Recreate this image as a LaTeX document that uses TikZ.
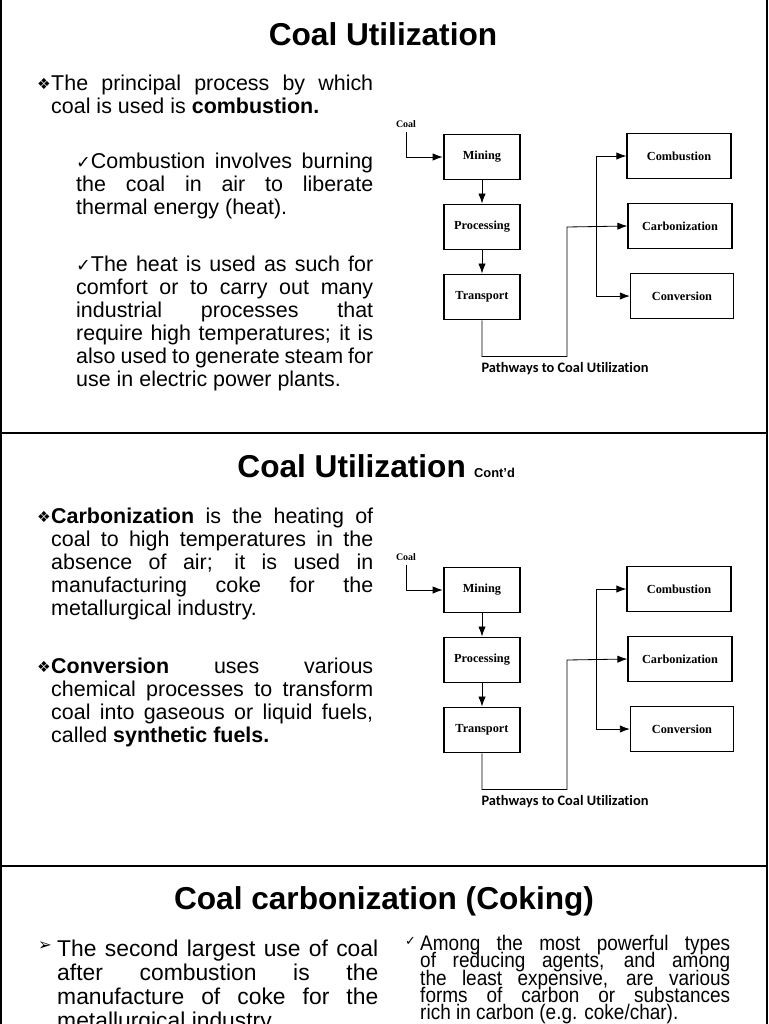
\documentclass[tikz,border=0pt]{standalone}
\usepackage{fontspec}
\setmainfont{Liberation Sans}
\newfontfamily\boxfont{Liberation Serif}
\newfontfamily\capfont{Carlito}[Ligatures=NoCommon]
\newfontfamily\symfont{DejaVu Sans}
\newfontfamily\narrowfont{Liberation Sans}[FakeStretch=0.9]
\usetikzlibrary{positioning,arrows.meta}
\tikzset{
  stage/.style={draw, line width=1.6pt, minimum width=23mm, minimum height=13.5mm, font=\boxfont\bfseries\fontsize{10.5}{12}\selectfont},
  flow/.style={line width=0.7pt, -{Latex[length=3mm, width=2.2mm]}},
  body/.style={anchor=north west, inner sep=0pt, align=justify, font=\fontsize{18.3}{19.6}\selectfont\nohyph},
  bullet/.style={anchor=north west, inner sep=0pt, font=\symfont\fontsize{13}{12}\selectfont},
  title/.style={font=\bfseries\fontsize{27}{30}\selectfont}
}
\newcommand\nohyph{\hyphenpenalty=10000\exhyphenpenalty=10000\lineskiplimit=-20pt}
\newcommand\tick{{\symfont\fontsize{15}{12}\selectfont ✓}}
\begin{document}
\begin{tikzpicture}[x=0.3mm,y=-0.3mm]
  \useasboundingbox (0,0) rectangle (768,1024);
  \clip (0,0) rectangle (768,1024);

  % Slide frames
  \draw[line width=1.2pt] (1,0) -- (1,1024);
  \draw[line width=1.2pt] (767,0) -- (767,1024);
  \draw[line width=1.6pt] (0,433) -- (768,433);
  \draw[line width=1.6pt] (0,866) -- (768,866);

  % Titles
  \node[title] (t1) at (383,34) {Coal Utilization};
  \node[title, anchor=base east] (t2) at (470,477) {Coal Utilization};
  \node[anchor=base west, font=\bfseries\fontsize{11}{12}\selectfont] (t2b) at (t2.base east) {Cont’d};
  \node[title] (t3) at (384,901) {Coal carbonization (Coking)};

  % Slide 1 text
  \node[bullet] (m1) at (37,78) {❖};
  \node[body, text width=96.6mm] (p1) at (51,75)
    {The principal process by which\linebreak coal is used is \textbf{combustion.}};
  \node[body, text width=89.1mm] (p2) at (76,153)
    {\tick Combustion involves burning\linebreak the coal in air to liberate\linebreak thermal energy (heat).};
  \node[body, text width=89.1mm] (p3) at (76,256)
    {\tick The heat is used as such for\linebreak comfort or to carry out many\linebreak industrial processes that\linebreak require high temperatures; it is\linebreak also used to generate steam for\linebreak use in electric power plants.};

  % Slide 2 text
  \node[bullet] (m2) at (37,511) {❖};
  \node[body, text width=96.6mm] (q1) at (51,508)
    {\textbf{Carbonization} is the heating of\linebreak coal to high temperatures in the\linebreak absence of air; it is used in\linebreak manufacturing coke for the\linebreak metallurgical industry.};
  \node[bullet] (m3) at (37,661) {❖};
  \node[body, text width=96.6mm] (q2) at (51,658)
    {\textbf{Conversion} uses various\linebreak chemical processes to transform\linebreak coal into gaseous or liquid fuels,\linebreak called \textbf{synthetic fuels.}};

  % Slide 3 text
  \node[bullet, font=\symfont\fontsize{14}{12}\selectfont] (m4) at (38,942) {➢};
  \node[body, text width=96.3mm, font=\fontsize{19.5}{20.5}\selectfont\nohyph] (r1) at (57,940)
    {The second largest use of coal\linebreak after combustion is the\linebreak manufacture of coke for the\linebreak metallurgical industry.};
  \node[bullet, font=\symfont\fontsize{11}{12}\selectfont] (m5) at (405,937) {✓};
  \node[body, text width=93mm, font=\narrowfont\fontsize{18}{14.8}\selectfont\nohyph] (r2) at (420,935)
    {Among the most powerful types\linebreak of reducing agents, and among\linebreak the least expensive, are various\linebreak forms of carbon or substances\linebreak rich in carbon (e.g. coke/char).};

  % Pathways diagrams
  \foreach \dy in {0,433} {
    \begin{scope}[yshift=-\dy*0.3mm]
      \node[stage] (mine) at (482,157) {Mining};
      \node[stage] (proc) at (482,227) {Processing};
      \node[stage] (trans) at (482,297) {Transport};
      \node[stage, minimum width=31mm] (comb) at (679,156) {Combustion};
      \node[stage, minimum width=31mm] (carb) at (680,226) {Carbonization};
      \node[stage, minimum width=31mm, line width=0.8pt] (conv) at (682,296) {Conversion};
      \node[font=\boxfont\bfseries\fontsize{8.5}{9}\selectfont] (coal) at (406,124) {Coal};
      \coordinate (split) at (596,156);
      \draw[flow] (coal.south) |- (mine.west);
      \draw[flow] (mine) -- (proc);
      \draw[flow] (proc) -- (trans);
      \draw[flow] (trans.south) -- ++(0,36) -| (567,227) -- (carb.west);
      \draw[flow] (split |- conv.west) |- (comb.west);
      \draw[flow] (split) |- (conv.west);
      \node[font=\capfont\bfseries\fontsize{12.3}{14}\selectfont] (cap) at (565,369) {Pathways to Coal Utilization};
    \end{scope}
  }
\end{tikzpicture}
\end{document}
